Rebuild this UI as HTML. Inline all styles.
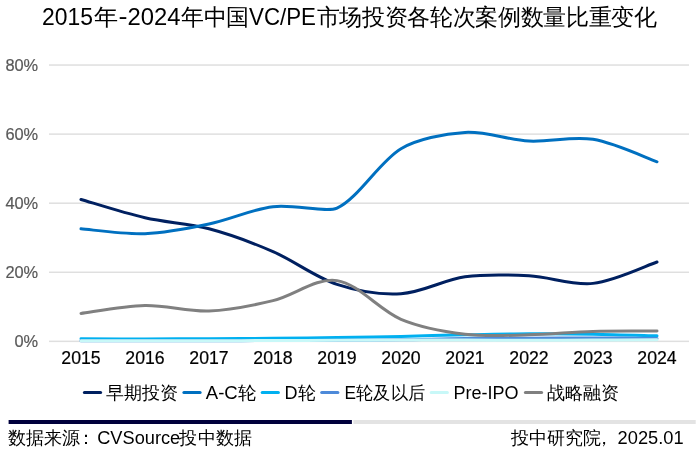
<!DOCTYPE html>
<html><head><meta charset="utf-8">
<style>
html,body{margin:0;padding:0;background:#fff;width:700px;height:469px;overflow:hidden}
svg{display:block;will-change:transform}
text{font-family:"Liberation Sans",sans-serif}
</style></head><body>
<svg width="700" height="469" viewBox="0 0 700 469">
<rect width="700" height="469" fill="#fff"/>
<g font-size="22.6" fill="#000">
<text x="42" y="24.5" font-size="23.4" textLength="51" lengthAdjust="spacingAndGlyphs">2015</text>
<text x="93.6" y="25" textLength="24.2" lengthAdjust="spacingAndGlyphs">年</text>
<text x="118.6" y="23.9" font-size="23.4" textLength="9" lengthAdjust="spacingAndGlyphs">-</text>
<text x="127.6" y="24.5" font-size="23.4" textLength="53" lengthAdjust="spacingAndGlyphs">2024</text>
<text x="181" y="25" textLength="68" lengthAdjust="spacing">年中国</text>
<text x="249" y="24.5" font-size="23.4" textLength="67" lengthAdjust="spacingAndGlyphs">VC/PE</text>
<text x="316.6" y="25" textLength="340.5" lengthAdjust="spacing">市场投资各轮次案例数量比重变化</text>
</g>
<rect x="49" y="340.60" width="640" height="1.5" fill="#dfdfdf"/>
<rect x="49" y="271.52" width="640" height="1.5" fill="#dfdfdf"/>
<rect x="49" y="202.45" width="640" height="1.5" fill="#dfdfdf"/>
<rect x="49" y="133.37" width="640" height="1.5" fill="#dfdfdf"/>
<rect x="49" y="64.30" width="640" height="1.5" fill="#dfdfdf"/>

<g font-size="16.4" fill="#595959" stroke="#595959" stroke-width="0.2">
<text x="38.2" y="347.30" text-anchor="end">0%</text>
<text x="38.2" y="278.22" text-anchor="end">20%</text>
<text x="38.2" y="209.15" text-anchor="end">40%</text>
<text x="38.2" y="140.07" text-anchor="end">60%</text>
<text x="38.2" y="71.00" text-anchor="end">80%</text>

</g>
<g font-size="17.7" fill="#000" stroke="#000" stroke-width="0.2">
<text x="81.00" y="363.9" text-anchor="middle">2015</text>
<text x="145.00" y="363.9" text-anchor="middle">2016</text>
<text x="209.00" y="363.9" text-anchor="middle">2017</text>
<text x="273.00" y="363.9" text-anchor="middle">2018</text>
<text x="337.00" y="363.9" text-anchor="middle">2019</text>
<text x="401.00" y="363.9" text-anchor="middle">2020</text>
<text x="465.00" y="363.9" text-anchor="middle">2021</text>
<text x="529.00" y="363.9" text-anchor="middle">2022</text>
<text x="593.00" y="363.9" text-anchor="middle">2023</text>
<text x="657.00" y="363.9" text-anchor="middle">2024</text>

</g>
<path d="M81.00 199.45 C91.67 202.50 123.67 212.86 145.00 217.75 C166.33 222.65 187.67 223.16 209.00 228.81 C230.33 234.45 251.67 242.33 273.00 251.60 C294.33 260.87 315.67 277.39 337.00 284.41 C356.07 290.69 379.67 295.00 401.00 293.74 C422.33 292.47 443.67 279.81 465.00 276.81 C486.33 273.82 507.67 274.68 529.00 275.78 C550.33 276.87 571.67 285.68 593.00 283.38 C614.33 281.07 646.33 265.53 657.00 261.96" fill="none" stroke="#002060" stroke-width="3" stroke-linecap="round" stroke-linejoin="round"/>
<path d="M81.00 228.81 C91.67 229.61 123.67 234.45 145.00 233.64 C166.33 232.84 187.67 228.46 209.00 223.97 C230.33 219.48 251.67 209.35 273.00 206.70 C294.33 204.05 326.05 213.05 337.00 208.08 C358.33 198.41 379.67 161.28 401.00 148.68 C416.75 139.37 443.67 133.71 465.00 132.45 C486.33 131.18 507.67 139.93 529.00 141.08 C550.33 142.23 571.67 135.90 593.00 139.35 C614.33 142.81 646.33 158.06 657.00 161.80" fill="none" stroke="#0070C0" stroke-width="3" stroke-linecap="round" stroke-linejoin="round"/>
<path d="M81.00 338.64 C91.67 338.69 123.67 338.98 145.00 338.98 C166.33 338.98 187.67 338.75 209.00 338.64 C230.33 338.52 251.67 338.46 273.00 338.29 C294.33 338.12 315.67 337.92 337.00 337.60 C358.33 337.28 379.67 336.85 401.00 336.39 C422.33 335.93 443.67 335.27 465.00 334.84 C486.33 334.41 507.67 333.92 529.00 333.80 C550.33 333.69 571.67 333.80 593.00 334.15 C614.33 334.49 646.33 335.59 657.00 335.87" fill="none" stroke="#00B0F0" stroke-width="3" stroke-linecap="round" stroke-linejoin="round"/>
<path d="M81.00 340.71 C91.67 340.71 123.67 340.71 145.00 340.71 C166.33 340.71 187.67 340.74 209.00 340.71 C230.33 340.68 251.67 340.59 273.00 340.54 C294.33 340.48 315.67 340.48 337.00 340.36 C358.33 340.25 379.67 340.16 401.00 339.85 C422.33 339.53 443.67 338.72 465.00 338.46 C486.33 338.21 507.67 338.38 529.00 338.29 C550.33 338.21 571.67 337.92 593.00 337.95 C614.33 337.97 646.33 338.38 657.00 338.46" fill="none" stroke="#4D8AD9" stroke-width="3" stroke-linecap="round" stroke-linejoin="round"/>
<path d="M81.00 340.71 C91.67 340.71 123.67 340.71 145.00 340.71 C166.33 340.71 187.67 340.74 209.00 340.71 C230.33 340.68 251.67 340.59 273.00 340.54 C294.33 340.48 315.67 340.45 337.00 340.36 C358.33 340.28 379.67 340.08 401.00 340.02 C422.33 339.96 443.67 339.96 465.00 340.02 C486.33 340.08 507.67 340.36 529.00 340.36 C550.33 340.36 571.67 340.10 593.00 340.02 C614.33 339.93 646.33 339.87 657.00 339.85" fill="none" stroke="#C8F8F8" stroke-width="3" stroke-linecap="round" stroke-linejoin="round"/>
<path d="M81.00 313.42 C91.67 312.10 123.67 305.88 145.00 305.48 C166.33 305.08 187.67 311.81 209.00 311.01 C230.33 310.20 251.67 305.71 273.00 300.65 C294.33 295.58 315.67 277.50 337.00 280.61 C358.33 283.72 379.67 310.37 401.00 319.30 C421.23 327.76 443.67 331.56 465.00 334.15 C486.33 336.74 507.67 335.30 529.00 334.84 C550.33 334.38 571.67 332.02 593.00 331.38 C614.33 330.75 646.33 331.10 657.00 331.04" fill="none" stroke="#808080" stroke-width="3" stroke-linecap="round" stroke-linejoin="round"/>

<g font-size="18" fill="#000">
<line x1="84.4" y1="392.4" x2="100.6" y2="392.4" stroke="#002060" stroke-width="3" stroke-linecap="round"/>
<text x="106.2" y="398.6">早期投资</text>
<line x1="183.9" y1="392.4" x2="200.1" y2="392.4" stroke="#0070C0" stroke-width="3" stroke-linecap="round"/>
<text x="205.8" y="398.6" textLength="50.5" lengthAdjust="spacingAndGlyphs">A-C轮</text>
<line x1="262.2" y1="392.4" x2="278.4" y2="392.4" stroke="#00B0F0" stroke-width="3" stroke-linecap="round"/>
<text x="284.6" y="398.6" textLength="31.0" lengthAdjust="spacingAndGlyphs">D轮</text>
<line x1="321.7" y1="392.4" x2="337.9" y2="392.4" stroke="#4D8AD9" stroke-width="3" stroke-linecap="round"/>
<text x="344.6" y="398.6" textLength="80.5" lengthAdjust="spacingAndGlyphs">E轮及以后</text>
<line x1="431.2" y1="392.4" x2="447.4" y2="392.4" stroke="#C8F8F8" stroke-width="3" stroke-linecap="round"/>
<text x="453.6" y="398.6" textLength="65.0" lengthAdjust="spacingAndGlyphs">Pre-IPO</text>
<line x1="525.4" y1="392.4" x2="541.6" y2="392.4" stroke="#808080" stroke-width="3" stroke-linecap="round"/>
<text x="547.2" y="398.6">战略融资</text>

</g>
<rect x="8.6" y="420" width="343.3" height="4" fill="#00003c"/>
<rect x="353.4" y="420" width="342.3" height="4" fill="#e3e3e3"/>
<g font-size="18" fill="#000">
<text x="8.3" y="444.2">数据来源</text>
<text x="76.5" y="444.2">：</text>
<text x="97.2" y="443.6" textLength="83" lengthAdjust="spacingAndGlyphs">CVSource</text>
<text x="179.4" y="444.2" textLength="73" lengthAdjust="spacing">投中数据</text>
<text x="510.8" y="444.2">投中研究院</text>
<text x="595.3" y="444.2">，</text>
<text x="617.6" y="443.6" textLength="66" lengthAdjust="spacingAndGlyphs">2025.01</text>
</g>

</svg>
</body></html>
